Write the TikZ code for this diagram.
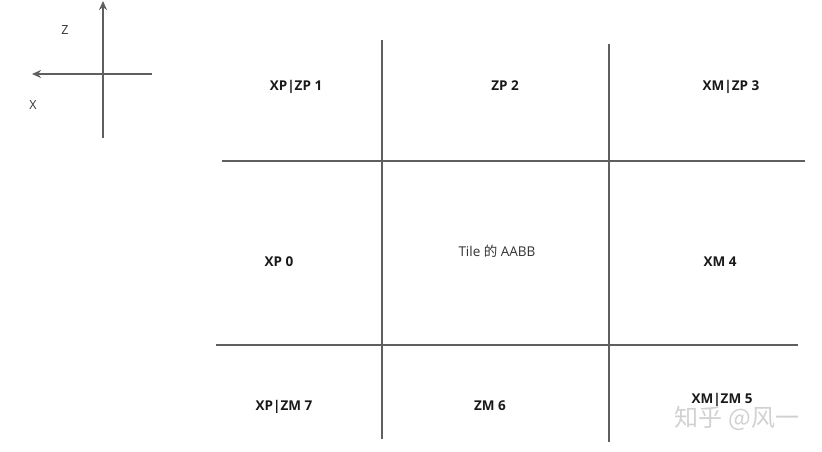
\documentclass[tikz,border=0pt]{standalone}
\usepackage{fontspec}
\setmainfont{Open Sans}
\newfontfamily\cjk{Noto Sans CJK SC}
\usetikzlibrary{arrows.meta}
\definecolor{linegray}{HTML}{5F5F5F}
\definecolor{textgray}{HTML}{333333}
\tikzset{
  gridline/.style={draw=linegray, line width=2pt},
  axisline/.style={draw=linegray, line width=1.8pt, -{Stealth[length=9pt,width=8pt]}},
  celltext/.style={font=\fontsize{13.5}{15}\selectfont\bfseries, text=black!90, anchor=base},
  axistext/.style={font=\fontsize{12.5}{14}\selectfont, text=textgray}
}
\begin{document}
\begin{tikzpicture}[x=1pt,y=1pt]
  \tikzstyle{every node}+=[inner sep=0pt]
  \useasboundingbox (0,0) rectangle (822,-452);
  % axes
  \coordinate (zbot) at (103,-138);
  \coordinate (ztop) at (103,-1);
  \coordinate (xright) at (152,-74);
  \coordinate (xleft) at (32,-74);
  \draw [axisline] (zbot) -- (ztop);
  \draw [axisline] (xright) -- (xleft);
  \draw (65,-30) node [axistext] (zlabel) {Z};
  \draw (33,-105) node [axistext] (xlabel) {X};
  % grid
  \coordinate (vA) at (382,-40);
  \coordinate (vAe) at (382,-439);
  \coordinate (vB) at (609,-44);
  \coordinate (vBe) at (609,-442);
  \coordinate (hA) at (222,-161);
  \coordinate (hAe) at (805,-161);
  \coordinate (hB) at (216,-345);
  \coordinate (hBe) at (798,-345);
  \draw [gridline] (vA) -- (vAe);
  \draw [gridline] (vB) -- (vBe);
  \draw [gridline] (hA) -- (hAe);
  \draw [gridline] (hB) -- (hBe);
  % cells (base line = centre + 5)
  \draw (296,-90) node [celltext] (xpzp) {XP|ZP 1};
  \draw (505,-90) node [celltext] (zp) {ZP 2};
  \draw (731,-90) node [celltext] (xmzp) {XM|ZP 3};
  \draw (279,-266) node [celltext] (xp) {XP 0};
  \draw (497,-251) node [font=\fontsize{13.5}{15}\selectfont, text=textgray] (tile) {Tile {\cjk 的} AABB};
  \draw (720,-266) node [celltext] (xm) {XM 4};
  \draw (284,-410) node [celltext] (xpzm) {XP|ZM 7};
  \draw (490,-410) node [celltext] (zm) {ZM 6};
  \draw (722,-403) node [celltext] (xmzm) {XM|ZM 5};
  \draw (737,-418) node [font=\cjk\fontsize{24}{26}\selectfont, text=black!18] (mark) {知乎 @风一};
\end{tikzpicture}
\end{document}
